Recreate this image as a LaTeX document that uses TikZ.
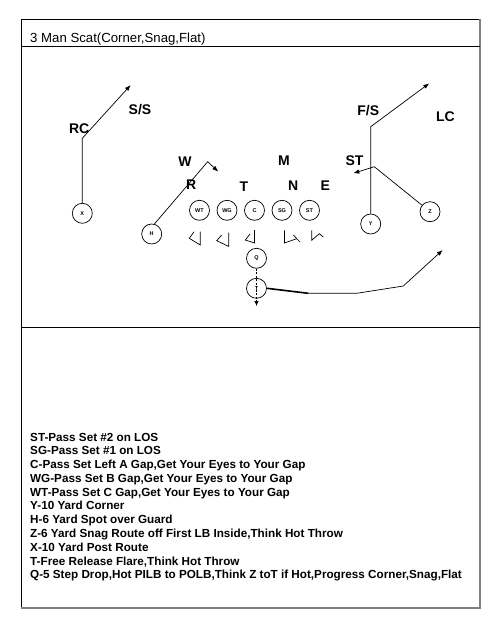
\documentclass[tikz,border=0pt]{standalone}
\usepackage{fontspec}
\setmainfont{Liberation Sans}
\usetikzlibrary{arrows.meta}
\begin{document}
\begin{tikzpicture}[x=1pt,y=-1pt,
  player/.style={circle,draw,line width=0.7pt,minimum size=20pt,inner sep=0pt,font=\fontsize{5.5}{6}\selectfont\bfseries},
  deflabel/.style={font=\fontsize{14}{16}\selectfont\bfseries,inner sep=0pt},
  route/.style={line width=0.7pt,-{Latex[length=6pt,width=4.5pt]}},
  passset/.style={line width=0.7pt,line join=miter},
  note/.style={anchor=base west,inner sep=0pt,font=\fontsize{11.7}{14}\selectfont\bfseries},
  frameline/.style={line width=0.8pt}]
\useasboundingbox (0,0) rectangle (495,640);
% frame
\draw[frameline] (21,608) -- (21,19) -- (480,19);
\draw[gray,line width=1.6pt] (480,19) -- (480,608) -- (21,608);
\draw[frameline] (21,46.3) -- (480,46.3);
\draw[frameline] (21,327) -- (480,327);
% title
\node[anchor=base west,inner sep=0pt,font=\fontsize{13.2}{15}\selectfont] (title) at (30,42.5) {3 Man Scat(Corner,Snag,Flat)};
% defenders
\node[deflabel] (rc) at (79.2,128.3) {RC};
\node[deflabel] (ss) at (140,109.7) {S/S};
\node[deflabel] (w) at (185,161.3) {W};
\node[deflabel] (r) at (191.2,184.5) {R};
\node[deflabel] (dt) at (243.8,187) {T};
\node[deflabel] (m) at (284,161) {M};
\node[deflabel] (n) at (293.3,186) {N};
\node[deflabel] (e) at (325.2,186) {E};
\node[deflabel] (fs) at (368.3,110.5) {F/S};
\node[deflabel] (lc) at (445.5,116.7) {LC};
\node[deflabel] (st) at (354.5,160.5) {ST};
% offense
\node[player] (X) at (82.3,213.3) {X};
\node[player] (H) at (151.7,234) {H};
\node[player] (WT) at (199.5,210.3) {WT};
\node[player] (WG) at (227,210.3) {WG};
\node[player] (C) at (254.5,210.3) {C};
\node[player] (SG) at (282,210.3) {SG};
\node[player] (ST) at (309.5,210.3) {ST};
\node[player] (Q) at (256.5,258.3) {Q};
\node[player] (T) at (256.5,288.3) {T};
\node[player] (Y) at (370.7,224) {Y};
\node[player] (Z) at (430,211.7) {Z};
% route points
\coordinate (x1) at (82.3,138.3);
\coordinate (x2) at (130.7,85);
\coordinate (h1) at (207.7,161.7);
\coordinate (h2) at (218.3,171.7);
\coordinate (y1) at (370.7,126.7);
\coordinate (y2) at (429.3,83.3);
\coordinate (z1) at (374.3,166.7);
\coordinate (z2) at (353.3,173.3);
\coordinate (t1) at (308.3,293.3);
\coordinate (t2) at (356.7,293.3);
\coordinate (t3) at (403.3,286);
\coordinate (t4) at (442.7,250);
\coordinate (qd) at (256.5,306);
% routes
\draw[route] (X.north) -- (x1) -- (x2);
\draw[route] (H.75) -- (h1) -- (h2);
\draw[route] (Y.north) -- (y1) -- (y2);
\draw[route] (Z) -- (z1) -- (z2);
\draw[line width=1.6pt] (T.east) -- (t1);
\draw[route] (t1) -- (t2) -- (t3) -- (t4);
\draw[line width=0.7pt,dash pattern=on 2pt off 1.5pt,-{Latex[length=5pt,width=4.5pt]}] (Q.south) -- (qd);
% pass sets
\draw[passset] (194,231.7) -- (189.3,238.3) -- (200.3,245) -- (200.3,231.7);
\draw[passset] (221.7,235) -- (216.7,240.7) -- (228.8,246.5) -- (228.8,232.5);
\draw[passset] (250,234) -- (245.3,240) -- (254.5,243) -- (254.5,230);
\draw[passset] (284.5,230.3) -- (284.5,243) -- (296.7,238.7);
\draw[passset] (293.5,235) -- (296.7,238.7) -- (300,242);
\draw[passset] (311.7,230.3) -- (311.7,240.3) -- (319.3,233.7) -- (323.3,237);
% notes
\node[note] (n1) at (30,441) {ST-Pass Set \#2 on LOS};
\node[note] (n2) at (30,454.8) {SG-Pass Set \#1 on LOS};
\node[note] (n3) at (30,468.5) {C-Pass Set Left A Gap,Get Your Eyes to Your Gap};
\node[note] (n4) at (30,482.3) {WG-Pass Set B Gap,Get Your Eyes to Your Gap};
\node[note] (n5) at (30,496.1) {WT-Pass Set C Gap,Get Your Eyes to Your Gap};
\node[note] (n6) at (30,509.9) {Y-10 Yard Corner};
\node[note] (n7) at (30,523.6) {H-6 Yard Spot over Guard};
\node[note] (n8) at (30,537.4) {Z-6 Yard Snag Route off First LB Inside,Think Hot Throw};
\node[note] (n9) at (30,551.2) {X-10 Yard Post Route};
\node[note] (n10) at (30,565) {T-Free Release Flare,Think Hot Throw};
\node[note] (n11) at (30,578.7) {Q-5 Step Drop,Hot PILB to POLB,Think Z toT if Hot,Progress Corner,Snag,Flat};
\end{tikzpicture}
\end{document}
